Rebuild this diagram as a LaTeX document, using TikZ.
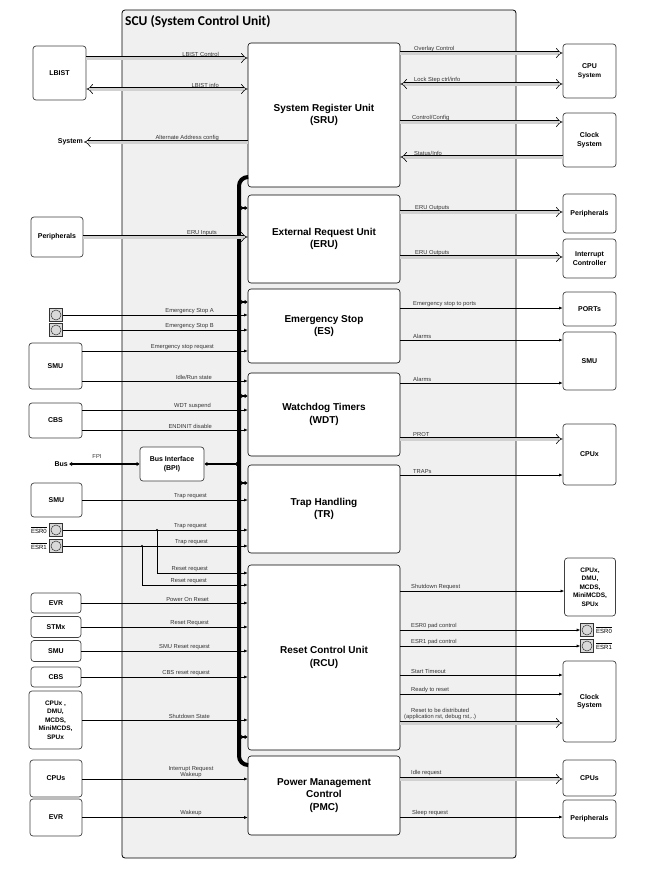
\documentclass[tikz,border=0pt]{standalone}
\usepackage{fontspec}
\setmainfont{Liberation Sans}
\newfontfamily\titlefont{Carlito}
\usetikzlibrary{arrows.meta}
\begin{document}
\begin{tikzpicture}[x=1pt,y=-1pt,
  box/.style={draw=black!75,line width=0.7pt,rounded corners=3pt,fill=white,font=\bfseries\fontsize{7}{8.5}\selectfont,align=center,inner sep=0pt},
  blk/.style={draw=black,line width=0.6pt,rounded corners=3pt,fill=white,font=\bfseries\fontsize{10}{12.5}\selectfont,align=center,inner sep=0pt,minimum width=152pt},
  pad/.style={draw=black!80,fill=black!15,minimum size=13pt,inner sep=0pt,line width=0.6pt},
  lblL/.style={anchor=south east,font=\fontsize{5.8}{6.5}\selectfont,text=black!80,inner sep=1pt},
  lblR/.style={anchor=south west,font=\fontsize{5.8}{6.5}\selectfont,text=black!80,inner sep=1pt},
  thin/.style={line width=0.6pt,-{Latex[length=3.5pt,width=3pt]}},
  wide/.style={line width=0.6pt,double=black!18,double distance=3pt,-{Implies}},
  wideb/.style={line width=0.6pt,double=black!18,double distance=3pt,{Implies}-{Implies}},
  busarr/.style={line width=1.6pt,{Latex[length=3pt,width=4.5pt]}-{Latex[length=3pt,width=4.5pt]}},
]
\useasboundingbox (0,0) rectangle (652,871);
% SCU
\draw[fill=black!6,line width=0.8pt,rounded corners=3pt] (122,10) rectangle (516,858);
\node[anchor=west,font=\titlefont\bfseries\fontsize{13.5}{15}\selectfont,inner sep=0pt] (title) at (125,22) {SCU (System Control Unit)};
% blocks
\node[blk,minimum height=144pt] (sru) at (324,115) {System Register Unit\\(SRU)};
\node[blk,minimum height=88pt] (eru) at (324,239) {External Request Unit\\(ERU)};
\node[blk,minimum height=74pt] (es) at (324,326) {Emergency Stop\\(ES)};
\node[blk,minimum height=83pt] (wdt) at (324,414.5) {Watchdog Timers\\(WDT)};
\node[blk,minimum height=88pt] (tr) at (324,509) {Trap Handling\\(TR)};
\node[blk,minimum height=185pt] (rcu) at (324,657.5) {Reset Control Unit\\(RCU)};
\node[blk,minimum height=79pt] (pmc) at (324,795.5) {Power Management\\Control\\(PMC)};
% left boxes
\node[box,minimum width=53pt,minimum height=54pt] (lbist) at (59.5,73) {LBIST};
\node[font=\bfseries\fontsize{7}{8}\selectfont,anchor=east,inner sep=1pt] (sys) at (84,142) {System};
\node[box,minimum width=52pt,minimum height=40pt] (perL) at (57,237) {Peripherals};
\node[pad] (padA) at (56,315) {}; \draw[black!80,line width=0.5pt] (padA) circle (5pt);
\node[pad] (padB) at (56,330) {}; \draw[black!80,line width=0.5pt] (padB) circle (5pt);
\node[box,minimum width=53pt,minimum height=46pt] (smu1) at (55.5,366) {SMU};
\node[box,minimum width=53pt,minimum height=35pt] (cbs1) at (55.5,420.5) {CBS};
\node[font=\bfseries\fontsize{7}{8}\selectfont,anchor=east,inner sep=1pt] (bus) at (69,464) {Bus};
\node[box,minimum width=64pt,minimum height=34pt] (bpi) at (172,464) {Bus Interface\\(BPI)};
\node[box,minimum width=51pt,minimum height=34pt] (smu2) at (56.5,500) {SMU};
\node[pad] (pad0) at (56,530) {}; \draw[black!80,line width=0.5pt] (pad0) circle (5pt);
\node[pad] (pad1) at (56,546) {}; \draw[black!80,line width=0.5pt] (pad1) circle (5pt);
\node[font=\fontsize{6}{7}\selectfont,anchor=east,inner sep=1pt] (e0) at (48,530) {$\overline{\mbox{ESR0}}$};
\node[font=\fontsize{6}{7}\selectfont,anchor=east,inner sep=1pt] (e1) at (48,546) {$\overline{\mbox{ESR1}}$};
\node[box,minimum width=50pt,minimum height=20pt] (evr1) at (56,603) {EVR};
\node[box,minimum width=50pt,minimum height=21pt] (stmx) at (56,627) {STMx};
\node[box,minimum width=50pt,minimum height=21pt] (smu3) at (56,651) {SMU};
\node[box,minimum width=50pt,minimum height=20pt] (cbs2) at (56,677) {CBS};
\node[box,minimum width=53pt,minimum height=58pt,font=\bfseries\fontsize{6.5}{8.5}\selectfont] (cpux1) at (55.5,720) {CPUx ,\\DMU,\\MCDS,\\MiniMCDS,\\SPUx};
\node[box,minimum width=52pt,minimum height=37pt] (cpus1) at (56,778.5) {CPUs};
\node[box,minimum width=52pt,minimum height=37pt] (evr2) at (56,817.5) {EVR};
% right boxes
\node[box,minimum width=53pt,minimum height=54pt] (cpusys) at (589.5,71) {CPU\\{\fontsize{6.5}{8}\selectfont System}};
\node[box,minimum width=53pt,minimum height=54pt] (clk1) at (589.5,140) {Clock\\System};
\node[box,minimum width=53pt,minimum height=39pt] (perR1) at (589.5,213.5) {Peripherals};
\node[box,minimum width=53pt,minimum height=39pt] (intc) at (589.5,258.5) {Interrupt\\Controller};
\node[box,minimum width=53pt,minimum height=34pt] (ports) at (589.5,309) {PORTs};
\node[box,minimum width=53pt,minimum height=58pt] (smuR) at (589.5,361) {SMU};
\node[box,minimum width=53pt,minimum height=61pt] (cpuxR) at (589.5,454.5) {CPUx};
\node[box,minimum width=51pt,minimum height=58pt,font=\bfseries\fontsize{6.5}{8.5}\selectfont] (cpuxR2) at (590,587) {CPUx,\\DMU,\\MCDS,\\MiniMCDS,\\SPUx};
\node[pad] (padR0) at (587,630) {}; \draw[black!80,line width=0.5pt] (padR0) circle (5pt);
\node[pad] (padR1) at (587,646) {}; \draw[black!80,line width=0.5pt] (padR1) circle (5pt);
\node[font=\fontsize{6}{7}\selectfont,anchor=west,inner sep=1pt] (r0) at (595,630) {$\overline{\mbox{ESR0}}$};
\node[font=\fontsize{6}{7}\selectfont,anchor=west,inner sep=1pt] (r1) at (595,646) {$\overline{\mbox{ESR1}}$};
\node[box,minimum width=53pt,minimum height=81pt] (clk2) at (589.5,701.5) {Clock\\System};
\node[box,minimum width=53pt,minimum height=36pt] (cpusR) at (589.5,778) {CPUs};
\node[box,minimum width=53pt,minimum height=38pt] (perR2) at (589.5,819) {Peripherals};
% bus bar
\draw[line width=4pt,rounded corners=9pt] (sru.west|-0,177) -- (239,177) -- (239,765) -- (pmc.west|-0,765);
\foreach \n/\y in {eru/208,es/302,wdt/396,tr/483,rcu/737}{\draw[busarr] (239,\y) -- (\n.west|-0,\y);}
\draw[busarr] (bus.east) -- (bpi.west);
\draw[busarr] (bpi.east) -- (239,464);
\node[font=\fontsize{5.8}{6.5}\selectfont,text=black!80,anchor=south] (fpi) at (97,462) {FPI};
% left wide connectors
\draw[wide] (lbist.east|-0,58) -- (sru.west|-0,58); \node[lblL] at (220,58) {LBIST Control};
\draw[wideb] (lbist.east|-0,89) -- (sru.west|-0,89); \node[lblL] at (220,89) {LBIST info};
\draw[wide] (sru.west|-0,142) -- (sys.east); \node[lblL] at (220,142) {Alternate Address config};
\draw[wide] (perL.east|-0,237) -- (eru.west|-0,237); \node[lblL] at (218,237) {ERU Inputs};
% left thin connectors
\draw[thin] (padA.east) -- (es.west|-padA); \node[lblL] at (215,315) {Emergency Stop A};
\draw[thin] (padB.east) -- (es.west|-padB); \node[lblL] at (215,330) {Emergency Stop B};
\draw[thin] (smu1.east|-0,351) -- (es.west|-0,351); \node[lblL] at (215,351) {Emergency stop request};
\draw[thin] (smu1.east|-0,381) -- (wdt.west|-0,381); \node[lblL] at (213,381) {Idle/Run state};
\draw[thin] (cbs1.east|-0,410) -- (wdt.west|-0,410); \node[lblL] at (212,410) {WDT suspend};
\draw[thin] (cbs1.east|-0,430) -- (wdt.west|-0,430); \node[lblL] at (213,430) {ENDINIT disable};
\draw[thin] (smu2.east|-0,500) -- (tr.west|-0,500); \node[lblL] at (208,500) {Trap request};
\draw[thin] (pad0.east) -- (tr.west|-pad0); \node[lblL] at (208,530) {Trap request};
\draw[thin] (pad1.east) -- (tr.west|-pad1); \node[lblL] at (209,546) {Trap request};
\fill (157,530) circle (1.2pt) (142,546) circle (1.2pt);
\draw[thin] (157,530) -- (157,573) -- (rcu.west|-0,573); \node[lblL] at (209,573) {Reset request};
\draw[thin] (142,546) -- (142,585) -- (rcu.west|-0,585); \node[lblL] at (208,585) {Reset request};
\draw[thin] (evr1.east) -- (rcu.west|-evr1); \node[lblL] at (210,603) {Power On Reset};
\draw[thin] (stmx.east) -- (rcu.west|-stmx); \node[lblL] at (210,627) {Reset Request};
\draw[thin] (smu3.east) -- (rcu.west|-smu3); \node[lblL] at (211,651) {SMU Reset request};
\draw[thin] (cbs2.east) -- (rcu.west|-cbs2); \node[lblL] at (211,677) {CBS reset request};
\draw[thin] (cpux1.east) -- (rcu.west|-cpux1); \node[lblL] at (211,720) {Shutdown State};
\draw[thin] (cpus1.east|-0,779) -- (pmc.west|-0,779); \node[lblL,align=center,anchor=south] at (191,779) {Interrupt Request\\Wakeup};
\draw[thin] (evr2.east) -- (pmc.west|-evr2); \node[lblL,anchor=south] at (191,817) {Wakeup};
% right connectors
\draw[wide] (sru.east|-0,53) -- (cpusys.west|-0,53); \node[lblR] at (413,53) {Overlay Control};
\draw[wideb] (sru.east|-0,84) -- (cpusys.west|-0,84); \node[lblR] at (413,84) {Lock Step ctrl/info};
\draw[wide] (sru.east|-0,122) -- (clk1.west|-0,122); \node[lblR] at (411,122) {Control/Config};
\draw[wide] (clk1.west|-0,157) -- (sru.east|-0,157); \node[lblR] at (413,157) {Status/Info};
\draw[wide] (eru.east|-0,212) -- (perR1.west|-0,212); \node[lblR] at (414,212) {ERU Outputs};
\draw[wide] (eru.east|-0,257) -- (intc.west|-0,257); \node[lblR] at (414,257) {ERU Outputs};
\draw[thin] (es.east|-0,308) -- (ports.west|-0,308); \node[lblR] at (412,308) {Emergency stop to ports};
\draw[thin] (es.east|-0,340) -- (smuR.west|-0,340); \node[lblR] at (412,340) {Alarms};
\draw[thin] (wdt.east|-0,383) -- (smuR.west|-0,383); \node[lblR] at (412,383) {Alarms};
\draw[wide] (wdt.east|-0,439) -- (cpuxR.west|-0,439); \node[lblR] at (412,438) {PROT};
\draw[thin] (tr.east|-0,475) -- (cpuxR.west|-0,475); \node[lblR] at (412,475) {TRAPs};
\draw[thin] (rcu.east|-0,591) -- (cpuxR2.west|-0,591); \node[lblR] at (410,591) {Shutdown Request};
\draw[thin] (rcu.east|-padR0) -- (padR0.west); \node[lblR] at (410,630) {ESR0 pad control};
\draw[thin] (rcu.east|-padR1) -- (padR1.west); \node[lblR] at (410,646) {ESR1 pad control};
\draw[thin] (rcu.east|-0,675) -- (clk2.west|-0,675); \node[lblR] at (410,675) {Start Timeout};
\draw[thin] (rcu.east|-0,694) -- (clk2.west|-0,694); \node[lblR] at (410,694) {Ready to reset};
\draw[wide] (rcu.east|-0,723) -- (clk2.west|-0,723); \node[lblR,align=center] at (403,721) {Reset to be distributed\\(application rst, debug rst,..)};
\draw[wide] (pmc.east|-0,779) -- (cpusR.west|-0,779); \node[lblR] at (410,777) {Idle request};
\draw[thin] (pmc.east|-0,817) -- (perR2.west|-0,817); \node[lblR] at (411,817) {Sleep request};
\end{tikzpicture}
\end{document}
